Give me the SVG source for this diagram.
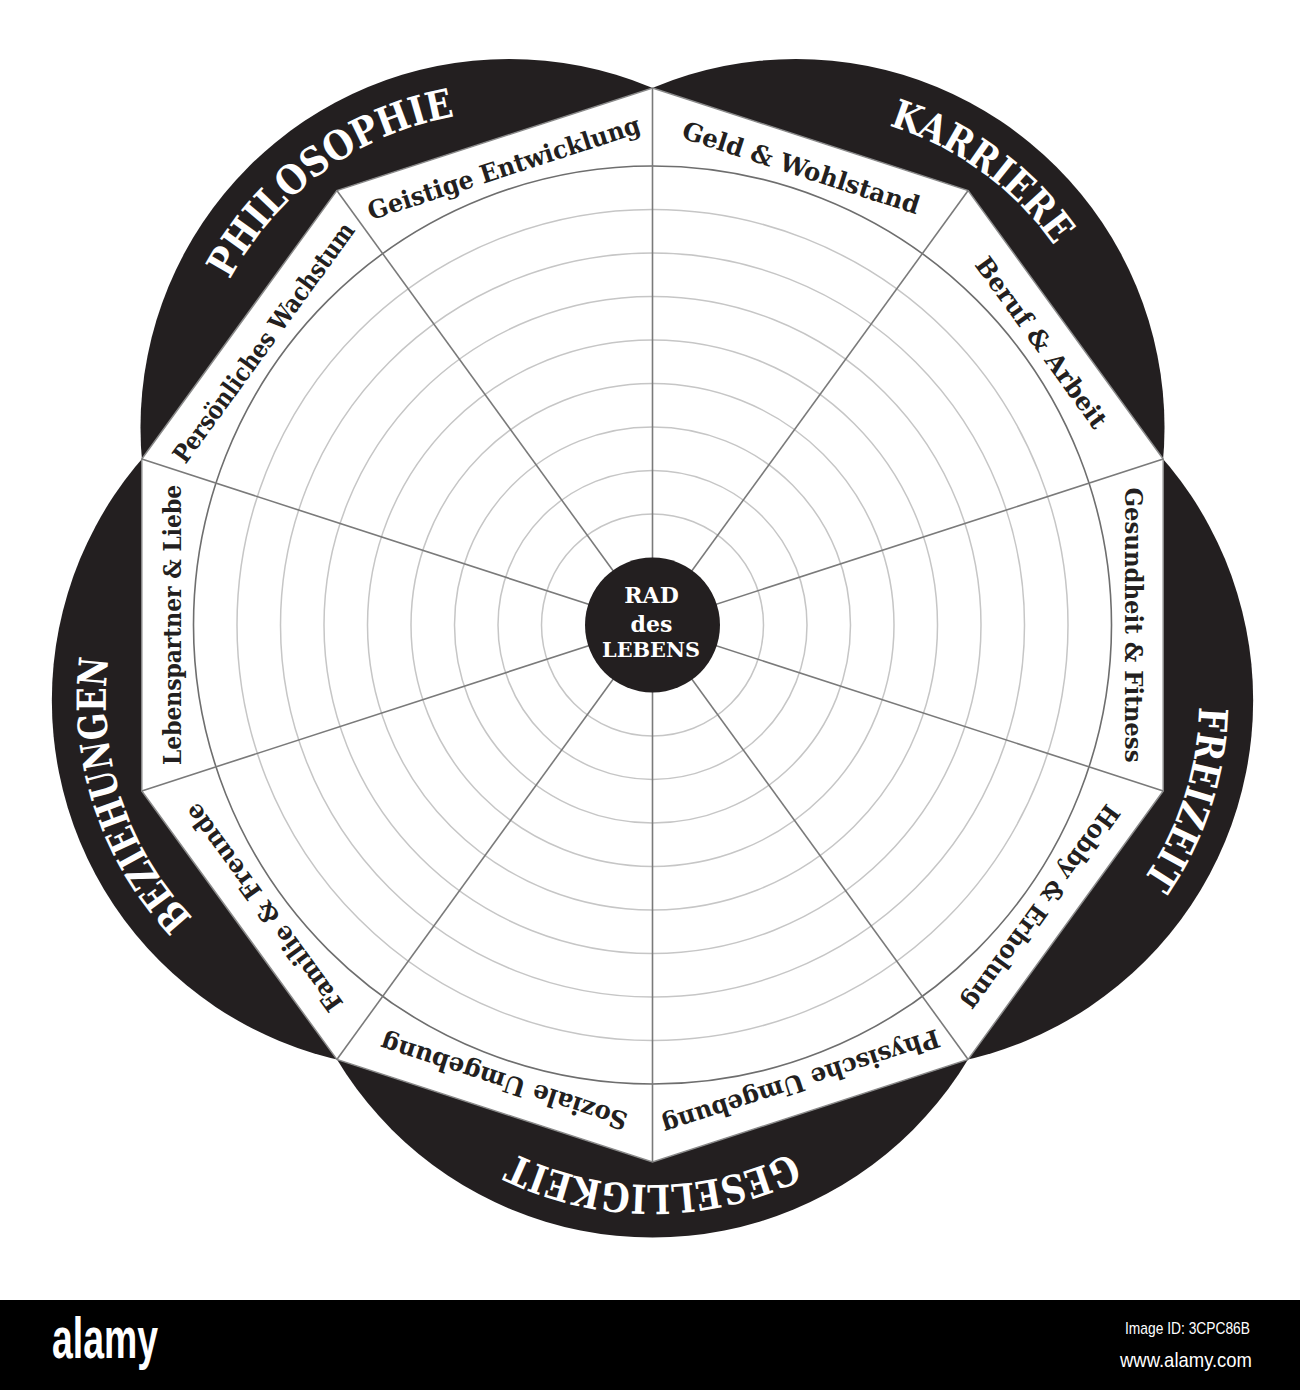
<svg xmlns="http://www.w3.org/2000/svg" xmlns:xlink="http://www.w3.org/1999/xlink" width="1300" height="1390" viewBox="0 0 1300 1390">
<style>
.petal{fill:#231f20}
.cat{font-family:"DejaVu Serif","Liberation Serif",serif;font-weight:bold;font-size:40px;fill:#fff}
.lbl{font-family:"DejaVu Serif","Liberation Serif",serif;font-weight:bold;font-size:25px;fill:#231f20;text-anchor:middle}
.ring{fill:none;stroke:#c6c6c6;stroke-width:1.5}
.ringo{fill:none;stroke:#6e6e6e;stroke-width:1.6}
.spoke{stroke:#7a7a7a;stroke-width:1.6}
.ctr{font-family:"DejaVu Serif","Liberation Serif",serif;font-weight:bold;fill:#fff;text-anchor:middle}
.foot{font-family:"Liberation Sans","DejaVu Sans",sans-serif;fill:#fff}
</style>
<defs>
<path id="pP" d="M253.43,613.34 A316,316 0 0 1 764.73,241.86"/>
<path id="pK" d="M540.27,241.86 A316,316 0 0 1 1051.57,613.34"/>
<path id="pF" d="M982.21,399.87 A316,316 0 0 1 786.91,1000.93"/>
<path id="pG" d="M968.5,869 A316,316 0 0 1 336.5,869"/>
<path id="pB" d="M518.09,1000.93 A316,316 0 0 1 322.79,399.87"/>
</defs>
<rect width="1300" height="1390" fill="#fff"/>
<g id="petals">
<circle class="petal" cx="509.08" cy="427.6" r="368.6"/>
<circle class="petal" cx="795.92" cy="427.6" r="368.6"/>
<circle class="petal" cx="884.56" cy="700.4" r="368.6"/>
<circle class="petal" cx="652.5" cy="869" r="368.6"/>
<circle class="petal" cx="420.44" cy="700.4" r="368.6"/>
</g>
<g id="wheel">
<polygon points="652.5,88 968.14,190.56 1163.22,459.06 1163.22,790.94 968.14,1059.44 652.5,1162 336.86,1059.44 141.78,790.94 141.78,459.06 336.86,190.56" fill="#fff" stroke="#8a8a8a" stroke-width="1.5"/>
<circle class="ring" cx="652.5" cy="625" r="111"/>
<circle class="ring" cx="652.5" cy="625" r="154.5"/>
<circle class="ring" cx="652.5" cy="625" r="198"/>
<circle class="ring" cx="652.5" cy="625" r="241.5"/>
<circle class="ring" cx="652.5" cy="625" r="285"/>
<circle class="ring" cx="652.5" cy="625" r="328.5"/>
<circle class="ring" cx="652.5" cy="625" r="372"/>
<circle class="ring" cx="652.5" cy="625" r="415.5"/>
<circle class="ringo" cx="652.5" cy="625" r="459"/>
</g>
<g id="connectors">
<line class="spoke" x1="652.5" y1="625" x2="652.5" y2="88"/>
<line class="spoke" x1="652.5" y1="625" x2="968.14" y2="190.56"/>
<line class="spoke" x1="652.5" y1="625" x2="1163.22" y2="459.06"/>
<line class="spoke" x1="652.5" y1="625" x2="1163.22" y2="790.94"/>
<line class="spoke" x1="652.5" y1="625" x2="968.14" y2="1059.44"/>
<line class="spoke" x1="652.5" y1="625" x2="652.5" y2="1162"/>
<line class="spoke" x1="652.5" y1="625" x2="336.86" y2="1059.44"/>
<line class="spoke" x1="652.5" y1="625" x2="141.78" y2="790.94"/>
<line class="spoke" x1="652.5" y1="625" x2="141.78" y2="459.06"/>
<line class="spoke" x1="652.5" y1="625" x2="336.86" y2="190.56"/>
</g>
<g id="center">
<circle cx="652.5" cy="625" r="67.5" fill="#231f20"/>
<text class="ctr" x="651.5" y="603" font-size="22">RAD</text>
<text class="ctr" x="651.5" y="632" font-size="22">des</text>
<text class="ctr" x="651" y="657" font-size="21" textLength="98" lengthAdjust="spacingAndGlyphs">LEBENS</text>
</g>
<g id="cat-philosophie"><text class="cat"><textPath href="#pP" xlink:href="#pP" startOffset="50%" text-anchor="middle" textLength="288" lengthAdjust="spacingAndGlyphs">PHILOSOPHIE</textPath></text></g>
<g id="cat-karriere"><text class="cat"><textPath href="#pK" xlink:href="#pK" startOffset="50%" text-anchor="middle" textLength="208" lengthAdjust="spacingAndGlyphs">KARRIERE</textPath></text></g>
<g id="cat-freizeit"><text class="cat"><textPath href="#pF" xlink:href="#pF" startOffset="50%" text-anchor="middle" textLength="185" lengthAdjust="spacingAndGlyphs">FREIZEIT</textPath></text></g>
<g id="cat-geselligkeit"><text class="cat"><textPath href="#pG" xlink:href="#pG" startOffset="50%" text-anchor="middle" textLength="288" lengthAdjust="spacingAndGlyphs">GESELLIGKEIT</textPath></text></g>
<g id="cat-beziehungen"><text class="cat"><textPath href="#pB" xlink:href="#pB" startOffset="50%" text-anchor="middle" textLength="282" lengthAdjust="spacingAndGlyphs">BEZIEHUNGEN</textPath></text></g>
<g id="lbl-geld"><text class="lbl" transform="translate(652.5,625) rotate(18) translate(0,-472)" textLength="248" lengthAdjust="spacingAndGlyphs">Geld &amp; Wohlstand</text></g>
<g id="lbl-beruf"><text class="lbl" transform="translate(652.5,625) rotate(54) translate(0,-472)" textLength="205" lengthAdjust="spacingAndGlyphs">Beruf &amp; Arbeit</text></g>
<g id="lbl-gesundheit"><text class="lbl" transform="translate(652.5,625) rotate(90) translate(0,-472)" textLength="275" lengthAdjust="spacingAndGlyphs">Gesundheit &amp; Fitness</text></g>
<g id="lbl-hobby"><text class="lbl" transform="translate(652.5,625) rotate(126) translate(0,-472)" textLength="247" lengthAdjust="spacingAndGlyphs">Hobby &amp; Erholung</text></g>
<g id="lbl-physisch"><text class="lbl" transform="translate(652.5,625) rotate(162) translate(0,-472)" textLength="290" lengthAdjust="spacingAndGlyphs">Physische Umgebung</text></g>
<g id="lbl-sozial"><text class="lbl" transform="translate(652.5,625) rotate(198) translate(0,-472)" textLength="258" lengthAdjust="spacingAndGlyphs">Soziale Umgebung</text></g>
<g id="lbl-familie"><text class="lbl" transform="translate(652.5,625) rotate(234) translate(0,-472)" textLength="250" lengthAdjust="spacingAndGlyphs">Familie &amp; Freunde</text></g>
<g id="lbl-lebenspartner"><text class="lbl" transform="translate(652.5,625) rotate(270) translate(0,-472)" textLength="280" lengthAdjust="spacingAndGlyphs">Lebenspartner &amp; Liebe</text></g>
<g id="lbl-persoenlich"><text class="lbl" transform="translate(652.5,625) rotate(306) translate(0,-472)" textLength="290" lengthAdjust="spacingAndGlyphs">Persönliches Wachstum</text></g>
<g id="lbl-geistig"><text class="lbl" transform="translate(652.5,625) rotate(342) translate(0,-472)" textLength="285" lengthAdjust="spacingAndGlyphs">Geistige Entwicklung</text></g>
<g id="footer">
<rect x="0" y="1300" width="1300" height="90" fill="#000"/>
<text class="foot" x="52" y="1358" font-size="58" font-weight="bold" textLength="106" lengthAdjust="spacingAndGlyphs">alamy</text>
<text class="foot" x="1250" y="1334" font-size="17" text-anchor="end" textLength="125" lengthAdjust="spacingAndGlyphs">Image ID: 3CPC86B</text>
<text class="foot" x="1252" y="1367" font-size="21" text-anchor="end" textLength="132" lengthAdjust="spacingAndGlyphs">www.alamy.com</text>
</g>
</svg>
